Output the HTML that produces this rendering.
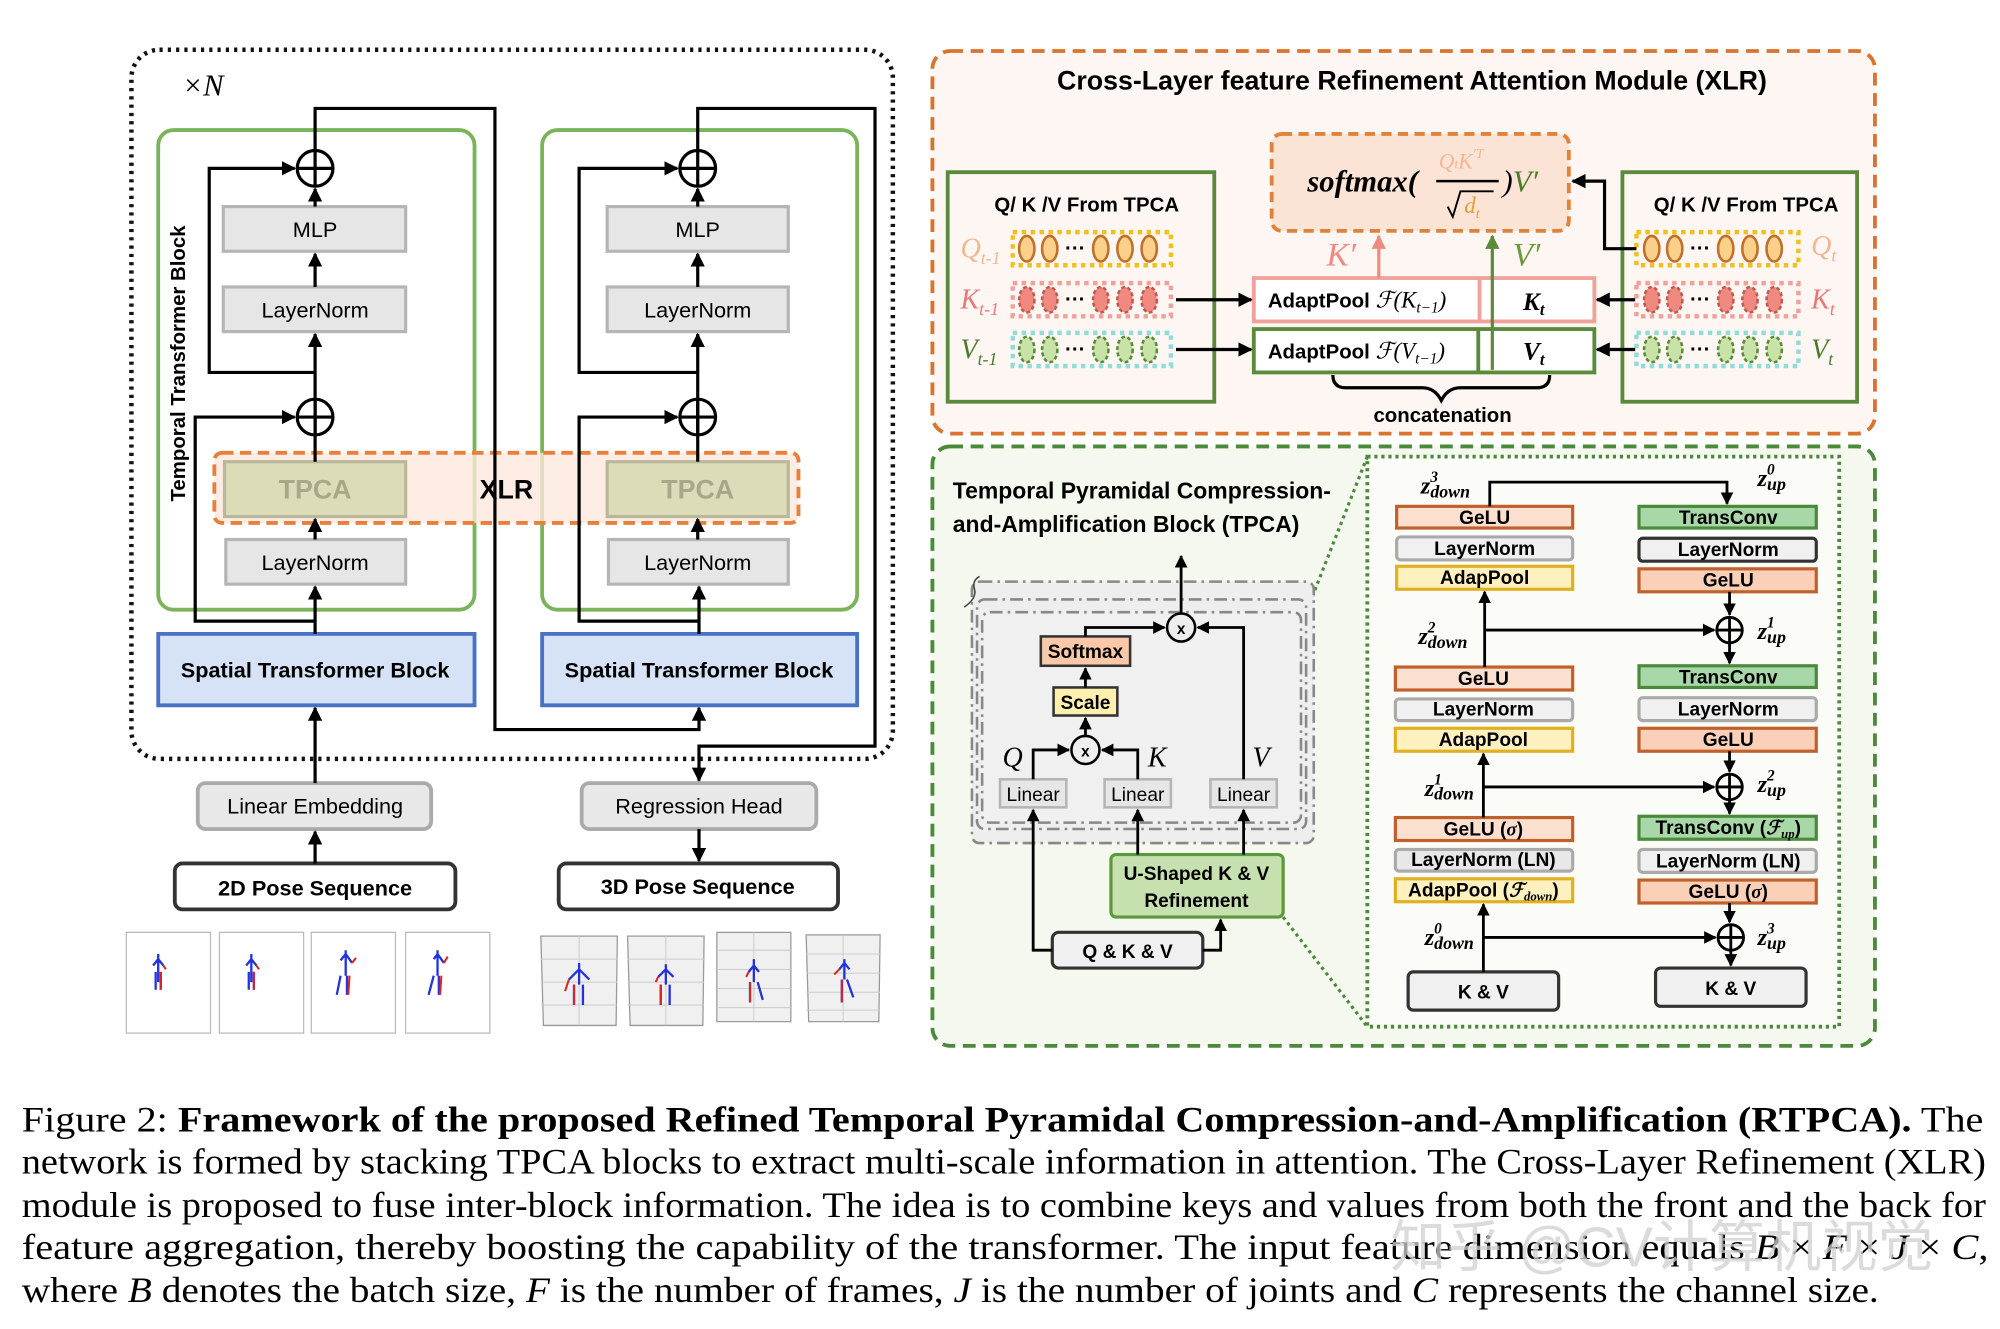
<!DOCTYPE html>
<html><head><meta charset="utf-8"><style>
html,body{margin:0;padding:0;background:#fff;}
svg{display:block;}
text{font-family:"Liberation Sans","Noto Sans CJK SC",sans-serif;}
.serif,.serif text,.serif tspan,text.serif{font-family:"Liberation Serif","Noto Serif CJK SC",serif;}
</style></head><body>
<svg width="2000" height="1329" viewBox="0 0 1568 1042" xmlns="http://www.w3.org/2000/svg">
<defs>
<marker id="a" viewBox="0 0 10 10" refX="9" refY="5" markerWidth="4.5" markerHeight="4.5" orient="auto-start-reverse"><path d="M0,0L10,5L0,10z" fill="#000"/></marker>
<marker id="ap" viewBox="0 0 10 10" refX="9" refY="5" markerWidth="4.5" markerHeight="4.5" orient="auto"><path d="M0,0L10,5L0,10z" fill="#f08a80"/></marker>
<marker id="ag" viewBox="0 0 10 10" refX="9" refY="5" markerWidth="4.5" markerHeight="4.5" orient="auto"><path d="M0,0L10,5L0,10z" fill="#5a8a3a"/></marker>
</defs>

<!-- ============ LEFT PANEL ============ -->
<rect x="103" y="39" width="597" height="556" rx="22" fill="none" stroke="#111" stroke-width="3.5" stroke-dasharray="2.5 4"/>
<text x="143" y="75" class="serif" font-size="24" font-style="italic">×N</text>

<rect x="124" y="102" width="248" height="376" rx="12" fill="none" stroke="#7ab35a" stroke-width="3"/>
<rect x="425" y="102" width="247" height="376" rx="12" fill="none" stroke="#7ab35a" stroke-width="3"/>
<text transform="translate(145,285) rotate(-90)" font-size="16" font-weight="bold" text-anchor="middle">Temporal Transformer Block</text>

<rect x="168" y="355" width="458" height="55" rx="6" fill="#fbe7dc" fill-opacity="0.8" stroke="#e87f3a" stroke-width="3" stroke-dasharray="9 5"/>
<text x="397" y="391" font-size="21" font-weight="bold" text-anchor="middle">XLR</text>

<g font-size="17" text-anchor="middle">
<rect x="175" y="162" width="143" height="35" fill="#e6e6e6" stroke="#b5b5b5" stroke-width="2.5"/><text x="247" y="186">MLP</text>
<rect x="175" y="225" width="143" height="35" fill="#e6e6e6" stroke="#b5b5b5" stroke-width="2.5"/><text x="247" y="249">LayerNorm</text>
<rect x="176" y="362" width="142" height="43" fill="#dcdcb8" stroke="#b8b89a" stroke-width="2.5"/><text x="247" y="391" font-size="21" font-weight="bold" fill="#a8a888">TPCA</text>
<rect x="177" y="423" width="141" height="35" fill="#e6e6e6" stroke="#b5b5b5" stroke-width="2.5"/><text x="247" y="447">LayerNorm</text>
<rect x="476" y="162" width="142" height="35" fill="#e6e6e6" stroke="#b5b5b5" stroke-width="2.5"/><text x="547" y="186">MLP</text>
<rect x="476" y="225" width="142" height="35" fill="#e6e6e6" stroke="#b5b5b5" stroke-width="2.5"/><text x="547" y="249">LayerNorm</text>
<rect x="476" y="362" width="142" height="43" fill="#dcdcb8" stroke="#b8b89a" stroke-width="2.5"/><text x="547" y="391" font-size="21" font-weight="bold" fill="#a8a888">TPCA</text>
<rect x="477" y="423" width="141" height="35" fill="#e6e6e6" stroke="#b5b5b5" stroke-width="2.5"/><text x="547" y="447">LayerNorm</text>

<rect x="124" y="497" width="248" height="56" fill="#d6e2f5" stroke="#4a72c4" stroke-width="3"/><text x="247" y="531" font-weight="bold">Spatial Transformer Block</text>
<rect x="425" y="497" width="247" height="56" fill="#d6e2f5" stroke="#4a72c4" stroke-width="3"/><text x="548" y="531" font-weight="bold">Spatial Transformer Block</text>

<rect x="155" y="614" width="183" height="36" rx="6" fill="#e8e8e8" stroke="#aaa" stroke-width="3"/><text x="247" y="638">Linear Embedding</text>
<rect x="456" y="614" width="184" height="36" rx="6" fill="#e8e8e8" stroke="#aaa" stroke-width="3"/><text x="548" y="638">Regression Head</text>
<rect x="137" y="677" width="220" height="36" rx="6" fill="#fff" stroke="#333" stroke-width="3"/><text x="247" y="702" font-weight="bold">2D Pose Sequence</text>
<rect x="438" y="677" width="219" height="36" rx="6" fill="#fff" stroke="#333" stroke-width="3"/><text x="547" y="701" font-weight="bold">3D Pose Sequence</text>
</g>

<g stroke="#000" stroke-width="2.5" fill="none">
<circle cx="247" cy="132" r="14"/><path d="M233,132H261M247,118V146"/>
<circle cx="247" cy="327" r="14"/><path d="M233,327H261M247,313V341"/>
<circle cx="547" cy="132" r="14"/><path d="M533,132H561M547,118V146"/>
<circle cx="547" cy="327" r="14"/><path d="M533,327H561M547,313V341"/>
<path d="M247,162V148" marker-end="url(#a)"/>
<path d="M247,225V199" marker-end="url(#a)"/>
<path d="M247,341V262" marker-end="url(#a)"/>
<path d="M247,362V341"/>
<path d="M247,423V407" marker-end="url(#a)"/>
<path d="M247,497V460" marker-end="url(#a)"/>
<path d="M247,292H164V132H231" marker-end="url(#a)"/>
<path d="M247,487H153V327H231" marker-end="url(#a)"/>
<path d="M247,118V85H388V572H548V555" marker-end="url(#a)"/>
<path d="M247,614V555" marker-end="url(#a)"/>
<path d="M247,677V652" marker-end="url(#a)"/>
<path d="M547,162V148" marker-end="url(#a)"/>
<path d="M547,225V199" marker-end="url(#a)"/>
<path d="M547,341V262" marker-end="url(#a)"/>
<path d="M547,362V341"/>
<path d="M547,423V407" marker-end="url(#a)"/>
<path d="M548,497V460" marker-end="url(#a)"/>
<path d="M547,292H454V132H531" marker-end="url(#a)"/>
<path d="M548,487H454V327H531" marker-end="url(#a)"/>
<path d="M547,118V85H686V585H548V612" marker-end="url(#a)"/>
<path d="M548,650V675" marker-end="url(#a)"/>
</g>

<g stroke="#bbb" stroke-width="1" fill="#fff">
<rect x="99" y="731" width="66" height="79"/><rect x="172" y="731" width="66" height="79"/><rect x="244" y="731" width="66" height="79"/><rect x="318" y="731" width="66" height="79"/>
</g>
<g fill="#f0f0f0" stroke="#999" stroke-width="1">
<path d="M424,734L484,734L483,804L426,804Z"/><path d="M492,734L552,734L551,804L494,804Z"/><path d="M562,731L620,731L620,801L562,801Z"/><path d="M632,733L690,733L689,801L634,801Z"/>
</g>
<g stroke="#ccc" stroke-width="0.8">
<path d="M424,752H484M424,770H484M424,788H484M454,734V804M492,752H552M492,770H552M492,788H552M522,734V804M562,745H620M562,760H620M562,775H620M562,790H620M591,731V801M632,748H690M632,763H690M632,778H690M632,792H690M661,733V801"/>
</g>
<g stroke="#2233dd" stroke-width="1.8" fill="none">
<path d="M124,748V770M120,757L124,752L128,757M122,762V776M126,762V776"/>
<path d="M197,748V770M193,757L197,752L201,757M195,762V776M199,762V776"/>
<path d="M271,745V765M267,753L271,748L276,755M267,765L264,780M272,765V780"/>
<path d="M343,745V765M340,752L343,748L348,755M340,765L336,780M344,765V780"/>
<path d="M454,755V772M446,768L454,760L462,768M450,772V788M457,772V788"/>
<path d="M522,756V772M516,766L522,760L528,766M518,772V788M525,772V788"/>
<path d="M591,752V770M587,762L591,757L595,762M588,770V786M594,770L598,784"/>
<path d="M662,752V768M658,760L662,755L666,760M660,768V786M664,768L669,782"/>
</g>
<g stroke="#dd2222" stroke-width="1.6" fill="none">
<path d="M126,762V776M128,757L130,760M199,762V776M201,757L203,760M274,765L273,780M276,755L279,751M346,765L345,780M348,755L351,750M446,768L443,777M450,772V788M516,766L514,770M518,772V788M587,762L585,766M588,770V786M658,760L654,764M660,768V786"/>
</g>

<!-- ============ XLR PANEL ============ -->
<rect x="731" y="40" width="739" height="300" rx="14" fill="#fdf6f2" stroke="#d9732e" stroke-width="3" stroke-dasharray="10 6"/>
<text x="1107" y="70" font-size="21" font-weight="bold" text-anchor="middle">Cross-Layer feature Refinement Attention Module (XLR)</text>

<rect x="743" y="135" width="209" height="180" fill="none" stroke="#5a8a3a" stroke-width="3"/>
<rect x="1272" y="135" width="184" height="180" fill="none" stroke="#5a8a3a" stroke-width="3"/>
<text x="852" y="166" font-size="16" font-weight="bold" text-anchor="middle">Q/ K /V From TPCA</text>
<text x="1369" y="166" font-size="16" font-weight="bold" text-anchor="middle">Q/ K /V From TPCA</text>

<rect x="794" y="182" width="124" height="26" fill="none" stroke="#f0c020" stroke-width="3.5" stroke-dasharray="3.5 3.5"/>
<rect x="794" y="222" width="124" height="26" fill="none" stroke="#f0a29a" stroke-width="3.5" stroke-dasharray="3.5 3.5"/>
<rect x="794" y="261" width="124" height="26" fill="none" stroke="#90dcd8" stroke-width="3.5" stroke-dasharray="3.5 3.5"/>
<rect x="1283" y="182" width="127" height="26" fill="none" stroke="#f0c020" stroke-width="3.5" stroke-dasharray="3.5 3.5"/>
<rect x="1283" y="222" width="127" height="26" fill="none" stroke="#f0a29a" stroke-width="3.5" stroke-dasharray="3.5 3.5"/>
<rect x="1283" y="261" width="127" height="26" fill="none" stroke="#90dcd8" stroke-width="3.5" stroke-dasharray="3.5 3.5"/>
<g stroke-width="2">
<g fill="#fbd08a" stroke="#c0702a">
<ellipse cx="805" cy="195" rx="6" ry="10"/><ellipse cx="823" cy="195" rx="6" ry="10"/><ellipse cx="863" cy="195" rx="6" ry="10"/><ellipse cx="882" cy="195" rx="6" ry="10"/><ellipse cx="901" cy="195" rx="6" ry="10"/>
<ellipse cx="1295" cy="195" rx="6" ry="10"/><ellipse cx="1313" cy="195" rx="6" ry="10"/><ellipse cx="1353" cy="195" rx="6" ry="10"/><ellipse cx="1372" cy="195" rx="6" ry="10"/><ellipse cx="1391" cy="195" rx="6" ry="10"/>
</g>
<g fill="#f08a80" stroke="#c05a50" stroke-dasharray="3 2">
<ellipse cx="805" cy="235" rx="6" ry="10"/><ellipse cx="823" cy="235" rx="6" ry="10"/><ellipse cx="863" cy="235" rx="6" ry="10"/><ellipse cx="882" cy="235" rx="6" ry="10"/><ellipse cx="901" cy="235" rx="6" ry="10"/>
<ellipse cx="1295" cy="235" rx="6" ry="10"/><ellipse cx="1313" cy="235" rx="6" ry="10"/><ellipse cx="1353" cy="235" rx="6" ry="10"/><ellipse cx="1372" cy="235" rx="6" ry="10"/><ellipse cx="1391" cy="235" rx="6" ry="10"/>
</g>
<g fill="#c8e2a8" stroke="#5a8a3a" stroke-dasharray="3 2">
<ellipse cx="805" cy="274" rx="6" ry="10"/><ellipse cx="823" cy="274" rx="6" ry="10"/><ellipse cx="863" cy="274" rx="6" ry="10"/><ellipse cx="882" cy="274" rx="6" ry="10"/><ellipse cx="901" cy="274" rx="6" ry="10"/>
<ellipse cx="1295" cy="274" rx="6" ry="10"/><ellipse cx="1313" cy="274" rx="6" ry="10"/><ellipse cx="1353" cy="274" rx="6" ry="10"/><ellipse cx="1372" cy="274" rx="6" ry="10"/><ellipse cx="1391" cy="274" rx="6" ry="10"/>
</g>
</g>
<g font-size="16" font-weight="bold" text-anchor="middle"><text x="843" y="200">···</text><text x="843" y="240">···</text><text x="843" y="279">···</text><text x="1333" y="200">···</text><text x="1333" y="240">···</text><text x="1333" y="279">···</text></g>
<g class="serif" font-size="22" font-style="italic">
<text x="753" y="202" fill="#f0b890">Q<tspan font-size="14" dy="5">t-1</tspan></text>
<text x="753" y="242" fill="#e87878">K<tspan font-size="14" dy="5">t-1</tspan></text>
<text x="753" y="281" fill="#4a7a2a">V<tspan font-size="14" dy="5">t-1</tspan></text>
<text x="1420" y="200" fill="#f0b890">Q<tspan font-size="14" dy="5">t</tspan></text>
<text x="1420" y="242" fill="#e87878">K<tspan font-size="14" dy="5">t</tspan></text>
<text x="1420" y="281" fill="#4a7a2a">V<tspan font-size="14" dy="5">t</tspan></text>
</g>

<rect x="997" y="105" width="233" height="76" rx="8" fill="#fbe3d6" stroke="#e0823a" stroke-width="3" stroke-dasharray="8 5"/>
<text x="1025" y="150" class="serif" font-size="24" font-weight="bold" font-style="italic">softmax(</text>
<text x="1128" y="132" class="serif" font-size="17" font-style="italic" fill="#f0b890">Q<tspan font-size="11">t</tspan>K<tspan font-size="11" dy="-8">′T</tspan></text>
<line x1="1126" y1="142" x2="1175" y2="142" stroke="#000" stroke-width="2"/>
<path d="M1135,162l4,8l6,-20h26" fill="none" stroke="#000" stroke-width="1.5"/>
<text x="1148" y="167" class="serif" font-size="18" font-style="italic" fill="#e0a030">d<tspan font-size="11" dy="4">t</tspan></text>
<text x="1178" y="150" class="serif" font-size="24" font-style="italic">)<tspan fill="#4a7a2a">V′</tspan></text>

<rect x="983" y="218" width="267" height="34" fill="#fff" stroke="#f0a29a" stroke-width="3"/>
<line x1="1160" y1="218" x2="1160" y2="252" stroke="#f0a29a" stroke-width="3"/>
<rect x="983" y="258" width="267" height="34" fill="#fff" stroke="#5a8a3a" stroke-width="3"/>
<line x1="1159" y1="258" x2="1159" y2="292" stroke="#5a8a3a" stroke-width="3"/>
<text x="994" y="241" font-size="16" font-weight="bold">AdaptPool <tspan class="serif" font-style="italic" font-weight="normal" font-size="18">ℱ(K<tspan font-size="12" dy="4">t−1</tspan><tspan dy="-4">)</tspan></tspan></text>
<text x="994" y="281" font-size="16" font-weight="bold">AdaptPool <tspan class="serif" font-style="italic" font-weight="normal" font-size="18">ℱ(V<tspan font-size="12" dy="4">t−1</tspan><tspan dy="-4">)</tspan></tspan></text>
<text x="1194" y="243" class="serif" font-size="20" font-style="italic" font-weight="bold">K<tspan font-size="13" dy="4">t</tspan></text>
<text x="1194" y="282" class="serif" font-size="20" font-style="italic" font-weight="bold">V<tspan font-size="13" dy="4">t</tspan></text>
<path d="M1081,218V185" stroke="#f08a80" stroke-width="2.5" marker-end="url(#ap)"/>
<path d="M1170,290V185" stroke="#5a8a3a" stroke-width="2.5" marker-end="url(#ag)"/>
<text x="1040" y="208" class="serif" font-size="26" font-style="italic" fill="#f08a80">K′</text>
<text x="1186" y="208" class="serif" font-size="26" font-style="italic" fill="#6a9a3a">V′</text>
<g stroke="#000" stroke-width="2.5" fill="none">
<path d="M922,235H981" marker-end="url(#a)"/>
<path d="M922,274H981" marker-end="url(#a)"/>
<path d="M1282,235H1252" marker-end="url(#a)"/>
<path d="M1282,274H1252" marker-end="url(#a)"/>
<path d="M1283,195H1258V142H1233" marker-end="url(#a)"/>
<path d="M1045,294q0,10 10,10h60q10,0 15,10q5,-10 15,-10h60q10,0 10,-10"/>
</g>
<text x="1131" y="331" font-size="16" font-weight="bold" text-anchor="middle">concatenation</text>

<!-- ============ TPCA PANEL ============ -->
<rect x="731" y="350" width="739" height="470" rx="14" fill="#f4f8ee" stroke="#4a8a3a" stroke-width="3" stroke-dasharray="10 6"/>
<rect x="1072" y="358" width="370" height="447" fill="#fff" fill-opacity="0.6" stroke="#4a8a3a" stroke-width="3" stroke-dasharray="2.5 3"/>
<path d="M1072,358L1028,470M1006,719L1072,805" stroke="#4a8a3a" stroke-width="2.5" stroke-dasharray="2.5 3" fill="none"/>
<text x="747" y="391" font-size="18" font-weight="bold">Temporal Pyramidal Compression-</text>
<text x="747" y="417" font-size="18" font-weight="bold">and-Amplification Block (TPCA)</text>

<g fill="none" stroke="#888" stroke-width="2" stroke-dasharray="10 4 2 4">
<rect x="762" y="456" width="268" height="205" rx="6" fill="#eeeeee"/>
<rect x="766" y="470" width="258" height="180" rx="6"/>
<rect x="770" y="480" width="250" height="165" rx="6" fill="#f0f0f0"/>
</g>
<path d="M768,452q-6,3 -4,10t-8,14" fill="none" stroke="#444" stroke-width="1.2"/>

<g font-size="15" text-anchor="middle" font-weight="bold">
<rect x="816" y="499" width="70" height="23" fill="#f8c8a8" stroke="#333" stroke-width="2"/><text x="851" y="516">Softmax</text>
<rect x="826" y="539" width="50" height="22" fill="#fff0b0" stroke="#333" stroke-width="2"/><text x="851" y="556">Scale</text>
</g>
<g font-size="15" text-anchor="middle">
<rect x="784" y="611" width="52" height="22" fill="#e6e6e6" stroke="#b5b5b5" stroke-width="2"/><text x="810" y="628">Linear</text>
<rect x="866" y="611" width="52" height="22" fill="#e6e6e6" stroke="#b5b5b5" stroke-width="2"/><text x="892" y="628">Linear</text>
<rect x="949" y="611" width="52" height="22" fill="#e6e6e6" stroke="#b5b5b5" stroke-width="2"/><text x="975" y="628">Linear</text>
<rect x="871" y="670" width="135" height="49" rx="4" fill="#c6e0b0" stroke="#5a9a3a" stroke-width="2.5"/>
<text x="938" y="690" font-weight="bold">U-Shaped K &amp; V</text><text x="938" y="711" font-weight="bold">Refinement</text>
<rect x="825" y="731" width="118" height="28" rx="5" fill="#f0f0f0" stroke="#333" stroke-width="2.5"/><text x="884" y="751" font-weight="bold">Q &amp; K &amp; V</text>
</g>
<g class="serif" font-size="22" font-style="italic"><text x="786" y="601">Q</text><text x="900" y="601">K</text><text x="982" y="601">V</text></g>
<g stroke="#000" stroke-width="2" fill="#eee">
<circle cx="851" cy="588" r="11"/><circle cx="926" cy="492" r="11"/>
</g>
<text x="851" y="593" font-size="12" font-weight="bold" text-anchor="middle">x</text>
<text x="926" y="497" font-size="12" font-weight="bold" text-anchor="middle">x</text>
<g stroke="#000" stroke-width="2.2" fill="none">
<path d="M810,611V588H838" marker-end="url(#a)"/>
<path d="M892,611V588H864" marker-end="url(#a)"/>
<path d="M851,577V563" marker-end="url(#a)"/>
<path d="M851,539V524" marker-end="url(#a)"/>
<path d="M851,499V492H913" marker-end="url(#a)"/>
<path d="M975,611V492H939" marker-end="url(#a)"/>
<path d="M926,481V436" marker-end="url(#a)"/>
<path d="M825,745H810V635" marker-end="url(#a)"/>
<path d="M943,745H957V721" marker-end="url(#a)"/>
<path d="M892,670V635" marker-end="url(#a)"/>
<path d="M975,670V635" marker-end="url(#a)"/>
</g>

<g font-size="15" font-weight="bold" text-anchor="middle" stroke-width="2.5">
<rect x="1095" y="397" width="138" height="17" fill="#fbe0d0" stroke="#c0602a"/><text x="1164" y="411">GeLU</text>
<rect x="1095" y="421" width="138" height="18" rx="3" fill="#f0f0f0" stroke="#aaa"/><text x="1164" y="435">LayerNorm</text>
<rect x="1095" y="444" width="138" height="18" fill="#fff0c0" stroke="#e0b020"/><text x="1164" y="458">AdapPool</text>
<rect x="1094" y="523" width="139" height="18" fill="#fbe0d0" stroke="#c0602a"/><text x="1163" y="537">GeLU</text>
<rect x="1094" y="548" width="139" height="17" rx="3" fill="#f0f0f0" stroke="#aaa"/><text x="1163" y="561">LayerNorm</text>
<rect x="1094" y="571" width="139" height="18" fill="#fff0c0" stroke="#e0b020"/><text x="1163" y="585">AdapPool</text>
<rect x="1094" y="641" width="139" height="18" fill="#fbe0d0" stroke="#c0602a"/><text x="1163" y="655">GeLU (<tspan class="serif" font-style="italic">σ</tspan>)</text>
<rect x="1094" y="666" width="139" height="17" rx="3" fill="#e8e8e8" stroke="#aaa"/><text x="1163" y="679">LayerNorm (LN)</text>
<rect x="1094" y="689" width="139" height="18" fill="#fff0c0" stroke="#e0b020"/><text x="1163" y="703">AdapPool (<tspan class="serif" font-style="italic">ℱ<tspan font-size="10" dy="3">down</tspan></tspan><tspan dy="-3">)</tspan></text>

<rect x="1285" y="397" width="139" height="17" fill="#a8d8a8" stroke="#4a8a3a"/><text x="1355" y="411">TransConv</text>
<rect x="1285" y="422" width="139" height="18" rx="3" fill="#f0f0f0" stroke="#333"/><text x="1355" y="436">LayerNorm</text>
<rect x="1285" y="446" width="139" height="18" fill="#fbd0b8" stroke="#c0602a"/><text x="1355" y="460">GeLU</text>
<rect x="1285" y="522" width="139" height="17" fill="#a8d8a8" stroke="#4a8a3a"/><text x="1355" y="536">TransConv</text>
<rect x="1285" y="547" width="139" height="18" rx="3" fill="#f0f0f0" stroke="#aaa"/><text x="1355" y="561">LayerNorm</text>
<rect x="1285" y="571" width="139" height="18" fill="#fbd0b8" stroke="#c0602a"/><text x="1355" y="585">GeLU</text>
<rect x="1285" y="640" width="139" height="18" fill="#a8d8a8" stroke="#4a8a3a"/><text x="1355" y="654">TransConv (<tspan class="serif" font-style="italic">ℱ<tspan font-size="10" dy="3">up</tspan></tspan><tspan dy="-3">)</tspan></text>
<rect x="1285" y="666" width="139" height="18" rx="3" fill="#f0f0f0" stroke="#aaa"/><text x="1355" y="680">LayerNorm (LN)</text>
<rect x="1285" y="690" width="139" height="18" fill="#fbd0b8" stroke="#c0602a"/><text x="1355" y="704">GeLU (<tspan class="serif" font-style="italic">σ</tspan>)</text>

<rect x="1104" y="762" width="118" height="30" rx="4" fill="#f0f0f0" stroke="#333"/><text x="1163" y="783">K &amp; V</text>
<rect x="1298" y="759" width="118" height="30" rx="4" fill="#f0f0f0" stroke="#333"/><text x="1357" y="780">K &amp; V</text>
</g>
<g stroke="#000" stroke-width="2.2" fill="none">
<circle cx="1356" cy="494" r="10"/><path d="M1346,494H1366M1356,484V504"/>
<circle cx="1356" cy="617" r="10"/><path d="M1346,617H1366M1356,607V627"/>
<circle cx="1357" cy="735" r="10"/><path d="M1347,735H1367M1357,725V745"/>
<path d="M1168,397V378H1354V395" marker-end="url(#a)"/>
<path d="M1356,464V482" marker-end="url(#a)"/>
<path d="M1356,504V520" marker-end="url(#a)"/>
<path d="M1356,589V605" marker-end="url(#a)"/>
<path d="M1356,627V638" marker-end="url(#a)"/>
<path d="M1356,708V723" marker-end="url(#a)"/>
<path d="M1357,745V757" marker-end="url(#a)"/>
<path d="M1164,523V464" marker-end="url(#a)"/>
<path d="M1164,494H1344" marker-end="url(#a)"/>
<path d="M1163,641V591" marker-end="url(#a)"/>
<path d="M1163,617H1344" marker-end="url(#a)"/>
<path d="M1163,762V709" marker-end="url(#a)"/>
<path d="M1163,735H1345" marker-end="url(#a)"/>
</g>
<g class="serif" font-style="italic" font-size="19" font-weight="bold">
<text x="1114" y="387">z<tspan font-size="12" dy="-9">3</tspan><tspan font-size="14" dx="-6" dy="12">down</tspan></text>
<text x="1378" y="381">z<tspan font-size="12" dy="-9">0</tspan><tspan font-size="14" dx="-6" dy="12">up</tspan></text>
<text x="1112" y="505">z<tspan font-size="12" dy="-9">2</tspan><tspan font-size="14" dx="-6" dy="12">down</tspan></text>
<text x="1378" y="501">z<tspan font-size="12" dy="-9">1</tspan><tspan font-size="14" dx="-6" dy="12">up</tspan></text>
<text x="1117" y="624">z<tspan font-size="12" dy="-9">1</tspan><tspan font-size="14" dx="-6" dy="12">down</tspan></text>
<text x="1378" y="621">z<tspan font-size="12" dy="-9">2</tspan><tspan font-size="14" dx="-6" dy="12">up</tspan></text>
<text x="1117" y="741">z<tspan font-size="12" dy="-9">0</tspan><tspan font-size="14" dx="-6" dy="12">down</tspan></text>
<text x="1378" y="741">z<tspan font-size="12" dy="-9">3</tspan><tspan font-size="14" dx="-6" dy="12">up</tspan></text>
</g>

<!-- ============ CAPTION ============ -->
<g class="serif" font-size="28">
<text x="17" y="887" textLength="1538" lengthAdjust="spacingAndGlyphs">Figure 2: <tspan font-weight="bold">Framework of the proposed Refined Temporal Pyramidal Compression-and-Amplification (RTPCA).</tspan> The</text>
<text x="17" y="920" textLength="1540" lengthAdjust="spacingAndGlyphs">network is formed by stacking TPCA blocks to extract multi-scale information in attention. The Cross-Layer Refinement (XLR)</text>
<text x="17" y="954" textLength="1540" lengthAdjust="spacingAndGlyphs">module is proposed to fuse inter-block information. The idea is to combine keys and values from both the front and the back for</text>
<text x="17" y="987" textLength="1542" lengthAdjust="spacingAndGlyphs">feature aggregation, thereby boosting the capability of the transformer. The input feature dimension equals <tspan font-style="italic">B</tspan> × <tspan font-style="italic">F</tspan> × <tspan font-style="italic">J</tspan> × <tspan font-style="italic">C</tspan>,</text>
<text x="17" y="1021" textLength="1456" lengthAdjust="spacingAndGlyphs">where <tspan font-style="italic">B</tspan> denotes the batch size, <tspan font-style="italic">F</tspan> is the number of frames, <tspan font-style="italic">J</tspan> is the number of joints and <tspan font-style="italic">C</tspan> represents the channel size.</text>
</g>
<text x="1090" y="993" font-size="44" fill="#cfcfcf" fill-opacity="0.75">知乎 @CV计算机视觉</text>
</svg>
</body></html>
